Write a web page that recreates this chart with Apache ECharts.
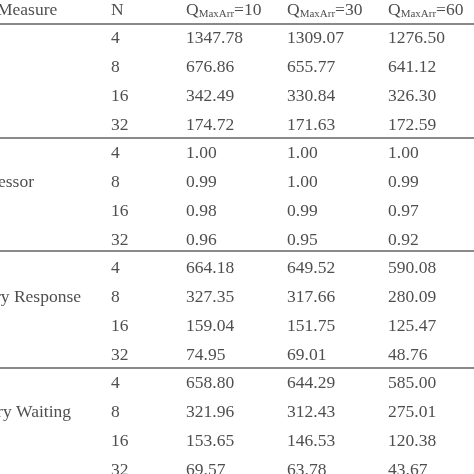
<!DOCTYPE html>
<html>
<head>
<meta charset="utf-8">
<script src="https://cdn.jsdelivr.net/npm/echarts@6/dist/echarts.min.js"></script>
<style>html,body{margin:0;background:#fff}#c{width:474px;height:474px}</style>
</head>
<body>
<div id="c"></div>
<script>
var measures = ['Time', 'Processor', 'Memory Response', 'Memory Waiting'];
var nValues = ['4', '8', '16', '32'];
var q10 = ['1347.78','676.86','342.49','174.72','1.00','0.99','0.98','0.96','664.18','327.35','159.04','74.95','658.80','321.96','153.65','69.57'];
var q30 = ['1309.07','655.77','330.84','171.63','1.00','1.00','0.99','0.95','649.52','317.66','151.75','69.01','644.29','312.43','146.53','63.78'];
var q60 = ['1276.50','641.12','326.30','172.59','1.00','0.99','0.97','0.92','590.08','280.09','125.47','48.76','585.00','275.01','120.38','43.67'];
var headers = ['Measure', 'N', '10', '30', '60'];
var colX = [-3, 111, 186, 287, 388];
var labelEndX = [0, 34, 81, 71];

var cells = [];
cells.push({ value: [colX[0], 0], text: headers[0] });
cells.push({ value: [colX[1], 0], text: headers[1] });
for (var h = 2; h < 5; h++) {
  cells.push({ value: [colX[h], 0], text: 'Q{sub|MaxArr}=' + headers[h] });
}
for (var i = 0; i < 16; i++) {
  var row = i + 1;
  cells.push({ value: [colX[1], row], text: nValues[i % 4] });
  cells.push({ value: [colX[2], row], text: q10[i] });
  cells.push({ value: [colX[3], row], text: q30[i] });
  cells.push({ value: [colX[4], row], text: q60[i] });
}
var groupLabels = [];
for (var g = 1; g < measures.length; g++) {
  groupLabels.push({ value: [labelEndX[g], g * 4 + 2], text: measures[g] });
}

var myChart = echarts.init(document.getElementById('c'));
var textStyle = {
  show: true,
  fontFamily: 'Liberation Serif',
  fontSize: 17.5,
  color: '#222',
  formatter: function (p) { return p.data.text; },
  rich: { sub: { fontSize: 11, verticalAlign: 'bottom', padding: [8, 0, 0, 0], fontFamily: 'Liberation Serif', color: '#222' } }
};

var option = {
  animation: false,
  grid: { left: 0, right: 0, top: 0, bottom: 0 },
  xAxis: { type: 'value', min: 0, max: 474, show: false },
  yAxis: { type: 'value', inverse: true, min: -0.348, max: 16.139, show: false },
  series: [
    {
      type: 'scatter',
      clip: false,
      symbolSize: 0,
      data: cells,
      label: Object.assign({ position: 'right', distance: 0 }, textStyle),
      markLine: {
        silent: true,
        symbol: 'none',
        label: { show: false },
        lineStyle: { color: '#8a8a8a', width: 2, type: 'solid' },
        data: [{ yAxis: 0.48 }, { yAxis: 4.43 }, { yAxis: 8.38 }, { yAxis: 12.43 }]
      }
    },
    {
      type: 'scatter',
      clip: false,
      symbolSize: 0,
      data: groupLabels,
      label: Object.assign({ position: 'left', distance: 0 }, textStyle)
    }
  ]
};
myChart.setOption(option);
</script>
</body>
</html>
